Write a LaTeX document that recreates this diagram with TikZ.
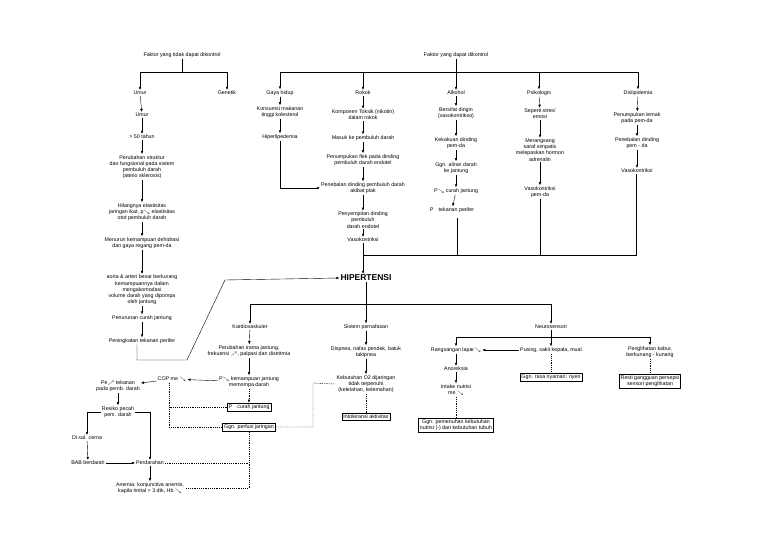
\documentclass[tikz,border=0pt]{standalone}
\usepackage{fontspec}
\setmainfont{Liberation Sans}
\usetikzlibrary{arrows.meta}
\begin{document}
\begin{tikzpicture}[x=1pt,y=-1pt,
 t/.style={font=\fontsize{5.3}{6.2}\selectfont, align=center, inner sep=1pt},
 bx/.style={t, draw, thick, inner sep=1.5pt},
 arr/.style={-{Latex[length=3pt,width=2.6pt]}},
 dsh/.style={dash pattern=on 1.2pt off 1pt}]
\useasboundingbox (0,0) rectangle (768,543);
% --- uncontrollable
\node[t] (fk1) at (182,55) {Faktor yang tidak dapat dikontrol};
\coordinate (j1) at (182,72);
\node[t] (umur) at (140,93) {Umur};
\node[t] (gen) at (227,93) {Genetik};
\draw (fk1) -- (j1);
\draw[arr] (j1) -| (umur);
\draw[arr] (j1) -| (gen);
\node[t] (u2) at (142,115) {Umur};
\node[t] (u3) at (142,137) {> 50 tahun};
\node[t] (u4) at (142,167) {Perubahan struktur\\dan fungsional pada sistem\\pembuluh darah\\(aterio sklerosis)};
\node[t] (u5) at (142,212) {Hilangnya elastisitas\\jaringan ikat, p$\searrow$ elastisitas\\otot pembuluh darah};
\node[t] (u6) at (142,243) {Menurun kemampuan dehidrasi\\dan gaya regang pem-da};
\node[t] (u7) at (142,290) {aorta \& arteri besar berkurang\\kemampuannya dalam\\mengakomodasi\\volume darah yang dipompa\\oleh jantung};
\node[t] (u8) at (142,318) {Penurunan curah jantung};
\node[t] (u9) at (142,341) {Peningkatan tekanan perifer};
\draw[arr] (umur)--(u2); \draw[arr] (u2)--(u3); \draw[arr] (u3)--(u4);
\draw[arr] (u4)--(u5); \draw[arr] (u5)--(u6); \draw[arr] (u6)--(u7);
\draw[arr] (u7)--(u8); \draw[arr] (u8)--(u9);
% --- controllable
\node[t] (fk2) at (456,55) {Faktor yang dapat dikontrol};
\coordinate (j2) at (456,72);
\draw (fk2) -- (j2);
\node[t] (gh) at (280,93) {Gaya hidup};
\node[t] (rk) at (363,93) {Rokok};
\node[t] (al) at (456,93) {Alkohol};
\node[t] (ps) at (539,93) {Psikologis};
\node[t] (dl) at (638,93) {Dislipidemia};
\draw (j2) -- (280,72) (j2) -- (638,72);
\foreach \n in {gh,rk,ps,dl} \draw[arr] (j2) -| (\n);
\draw[arr] (j2) -- (al);
% gaya hidup
\node[t] (g1) at (280,112) {Konsumsi makanan\\tinggi kolesterol};
\node[t] (g2) at (280,137) {Hiperlipedemia};
\draw[arr] (gh)--(g1); \draw[arr] (g1)--(g2);
% rokok
\node[t] (r1) at (363,115) {Komponen Toksik (nikotin)\\dalam rokok};
\node[t] (r2) at (363,138) {Masuk ke pembuluh darah};
\node[t] (r3) at (363,160) {Penumpukan flek pada dinding\\pembuluh darah endotel};
\node[t] (r4) at (363,188) {Penebalan dinding pembuluh darah\\akibat plak};
\node[t] (r5) at (363,220) {Penyempitan dinding\\pembuluh\\darah endotel};
\node[t] (r6) at (363,240) {Vasokontriksi};
\draw[arr] (rk)--(r1); \draw[arr] (r1)--(r2); \draw[arr] (r2)--(r3);
\draw[arr] (r3)--(r4); \draw[arr] (r4)--(r5); \draw[arr] (r5)--(r6);
\draw[arr] (g2.south) |- (r4.west);
% alkohol
\node[t] (a1) at (456,113) {Bersifat dingin\\(vasokontrikso)};
\node[t] (a2) at (456,143) {Kekakuan dinding\\pem-da};
\node[t] (a3) at (456,168) {Ggn. aliran darah\\ke jantung};
\node[t] (a4) at (456,191) {P$\searrow$ curah jantung};
\node[t] (a5) at (452,210) {P\quad tekanan perifer};
\draw[arr] (al)--(a1); \draw[arr] (a1)--(a2); \draw[arr] (a2)--(a3);
\draw[arr] (a3)--(a4); \draw[arr] (a4)--(a5);
% psikologis
\node[t] (p1) at (540,114) {Seperti stres/\\emosi};
\node[t] (p2) at (540,150) {Merangsang\\saraf simpatis\\melepaskan hormon\\adrenalin};
\node[t] (p3) at (540,192) {Vasokontriksi\\pem-da};
\draw[arr] (ps)--(p1); \draw[arr] (p1)--(p2); \draw[arr] (p2)--(p3);
% dislipidemia
\node[t] (d1) at (637,118) {Penumpukan lemak\\pada pem-da};
\node[t] (d2) at (637,143) {Penebalan dinding\\pem - da};
\node[t] (d3) at (637,171) {Vasokontriksi};
\draw[arr] (dl)--(d1); \draw[arr] (d1)--(d2); \draw[arr] (d2)--(d3);
% merge
\node[font=\bfseries\fontsize{8.5}{10}\selectfont, inner sep=1pt] (hip) at (366,278) {HIPERTENSI};
\coordinate (j3) at (363,255);
\draw (r6) -- (j3);
\draw (d3.south -| 636,0) |- (j3);
\draw (457,218) coordinate (a5b) -- (a5b |- j3);
\draw (p3.south) -- (p3.south |- j3);
\draw[arr] (j3) -- (j3 |- hip.north);
\draw[arr] (u9.south -| 137,0) |- (187,360) -- (225,280) -- (hip.west);
% lower branches
\coordinate (j4) at (366,304);
\node[t] (kv) at (250,327) {Kardiovaskuler};
\node[t] (sp) at (366,327) {Sistem pernafasan};
\node[t] (ns) at (551,327) {Neurosensori};
\draw (hip) -- (j4) (250,304) -- (551,304);
\draw[arr] (j4) -| (kv); \draw[arr] (j4) -- (sp); \draw[arr] (j4) -| (ns);
% kardio
\node[t] (k1) at (249,351) {Perubahan irama jantung,\\frekuensi $\nearrow$, palpasi dan distritmia};
\node[t] (k2) at (249,382) {P$\searrow$ kemampuan jantung\\memompa darah};
\node[bx] (k3) at (249,407) {P\quad curah jantung};
\node[bx] (k4) at (249,427) {Ggn. perfusi jaringan};
\draw[arr] (kv)--(k1); \draw[arr] (k1)--(k2); \draw[arr,dsh] (k2)--(k3);
\node[t] (cop) at (172,379) {COP me $\searrow$};
\draw[arr] (k2)--(cop);
\node[t] (pe) at (118,386) {Pe$\nearrow$ tekanan\\pada pemb. darah};
\draw[arr] (cop)--(pe);
\node[t] (rs) at (118,412) {Resiko pecah\\pem. darah};
\draw[arr] (pe)--(rs);
\node[t] (ds) at (87,438) {Di sal. cerna};
\node[t] (bab) at (88,463) {BAB berdarah};
\node[t] (pd) at (150,463) {Perdarahan};
\node[t] (an) at (150,488) {Anemia: konjunctiva anemis,\\kapila rinital > 3 dtk, Hb $\searrow$};
\draw[arr] (rs.west) -| (ds);
\draw[arr] (rs.east) -| (pd);
\draw[arr] (ds)--(bab); \draw[arr] (bab)--(pd); \draw[arr] (pd)--(an);
\draw[dsh] (cop.south -| 169,0) |- (k4.west);
\draw[dsh] (k3.west) -- (169,407);
\draw[dsh] (pd.east) -- (248,463);
\draw[dsh] (k4.south) |- (an.east);
% pernafasan
\node[t] (s1) at (366,352) {Dispnea, nafas pendek, batuk\\takipnea};
\node[t] (s2) at (366,384) {Kebutuhan O2 dijaringan\\tidak terpenuhi\\(kelelahan, kelemahan)};
\node[bx] (s3) at (366,417) {Intoleransi aktivitas};
\draw[arr] (sp)--(s1); \draw[arr] (s1)--(s2); \draw[dsh] (s2)--(s3);
\draw[dsh] (k4.east) -| (313,383) -- (s2.west);
% neuro
\coordinate (j5) at (551,337);
\node[t] (n1) at (456,350) {Rangsangan lapar$\searrow$};
\node[t] (n2) at (551,350) {Pusing, sakit kepala, mual};
\node[t] (n3) at (650,352) {Penglihatan kabur,\\berkunang - kunang};
\draw (ns)--(j5) (456,337)--(650,337);
\draw[arr] (j5) -| (n1); \draw[arr] (j5)--(n2); \draw[arr] (j5) -| (n3);
\draw[arr] (n2)--(n1);
\node[t] (n4) at (456,369) {Anoreksia};
\node[t] (n5) at (456,390) {Intake nutrisi\\me $\searrow$};
\node[bx] (n6) at (456,425) {Ggn. pemenuhan kebutuhan\\nutrisi (-) dari kebutuhan tubuh};
\node[bx] (n7) at (551,377) {Ggn. rasa nyaman: nyeri};
\node[bx] (n8) at (650,381) {Resti gangguan persepsi\\sensori penglihatan};
\draw[arr] (n1)--(n4); \draw[arr] (n4)--(n5); \draw[dsh] (n5)--(n6);
\draw[dsh] (n2)--(n7); \draw[dsh] (n3)--(n8);
\end{tikzpicture}
\end{document}
